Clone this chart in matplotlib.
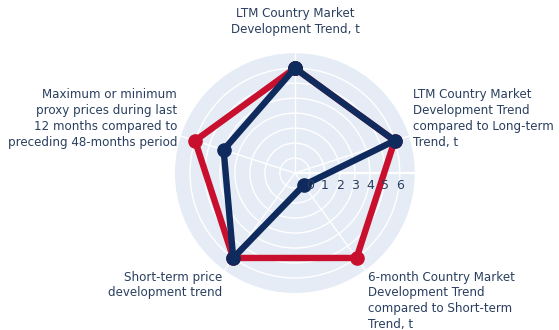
import numpy as np
import matplotlib
matplotlib.use('Agg')
import matplotlib.pyplot as plt
from matplotlib.transforms import offset_copy


categories = [
    'LTM Country Market\nDevelopment Trend, t',
    'Maximum or minimum\nproxy prices during last\n12 months compared to\npreceding 48-months period',
    'Short-term price\ndevelopment trend',
    '6-month Country Market\nDevelopment Trend\ncompared to Short-term\nTrend, t',
    'LTM Country Market\nDevelopment Trend\ncompared to Long-term\nTrend, t',
]
red_values = [6, 6, 6, 6, 6]
blue_values = [6, 4, 6, 0, 6]
radial_ticks = [0, 1, 2, 3, 4, 5, 6]

text_color = '#2a3f5f'
red = '#C8102E'
navy = '#0F2A5C'

# first category at the top, going counterclockwise
angles = (np.pi / 2 + np.linspace(0, 2 * np.pi, len(categories), endpoint=False)) % (2 * np.pi)

fig = plt.figure(figsize=(5.59, 3.30), dpi=100)
ax = fig.add_axes([0.313, 0.112, 0.429, 0.727], projection='polar')
ax.set_facecolor('#E5ECF6')
ax.spines['polar'].set_visible(False)

def closed(vals):
    return np.append(angles, angles[0]), np.append(vals, vals[0])

t, r = closed(red_values)
ax.plot(t, r, color=red, lw=4.6, marker='o', ms=9.5, zorder=3)
t, r = closed(blue_values)
ax.plot(t, r, color=navy, lw=4.6, marker='o', ms=9.5, zorder=4)

ax.set_xlim(0, 2 * np.pi)
ax.set_ylim(-1, 7)
ax.set_yticks(radial_ticks)
ax.set_yticklabels([])
ax.set_xticks(angles)
ax.set_xticklabels([])
ax.grid(color='white', lw=1)
ax.axvline(0, color='white', lw=1.6, zorder=2)

# radial tick labels just under the axis line
trans = offset_copy(ax.transData, fig=fig, x=0, y=-4, units='points')
for v in radial_ticks:
    ax.text(0, v, str(v), transform=trans, ha='center', va='top',
            fontsize=9, color=text_color, zorder=5)

# category labels around the circle
label_pos = [
    (0.528, 0.979, 'center', 'center'),
    (0.317, 0.733, 'right', 'right'),
    (0.397, 0.180, 'right', 'right'),
    (0.658, 0.180, 'left', 'left'),
    (0.739, 0.733, 'left', 'left'),
]
for name, (x, y, ha, ma) in zip(categories, label_pos):
    fig.text(x, y, name, ha=ha, va='top', multialignment=ma,
             fontsize=8.6, color=text_color, linespacing=1.28)

fig.savefig('out.png', dpi=100)
